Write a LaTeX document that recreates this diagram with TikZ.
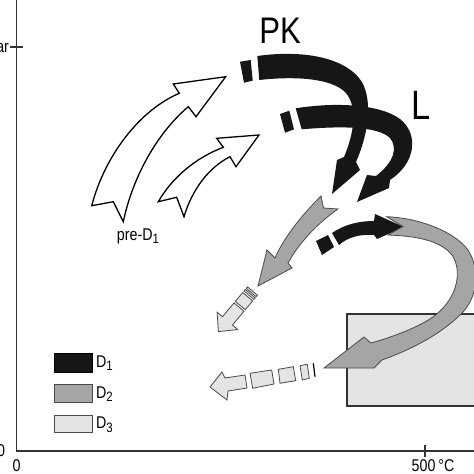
\documentclass[tikz,border=0pt]{standalone}
\usepackage{fontspec}
\setmainfont{Liberation Sans}[FakeStretch=0.84]
\definecolor{done}{HTML}{161616}
\definecolor{dtwo}{HTML}{A5A5A5}
\definecolor{dthree}{HTML}{E4E4E4}
\definecolor{edge}{HTML}{4A4A4A}
\definecolor{axis}{HTML}{333333}
\newcommand{\lowsub}[1]{\raisebox{-0.4ex}{\scalebox{0.8}{#1}}}
\tikzset{
  blk/.style={fill=done,draw=none},
  gry/.style={fill=dtwo,draw=edge,line width=0.8pt,line join=miter},
  lgt/.style={fill=dthree,draw=edge,line width=0.8pt},
  wht/.style={fill=white,draw=black,line width=1.3pt,line join=miter},
  axisline/.style={draw=axis,line width=1.5pt},
  lbl/.style={inner sep=0pt,outer sep=0pt,text=black},
  small/.style={font=\fontsize{17}{17}\selectfont},
  keytext/.style={lbl,anchor=west,font=\fontsize{17}{17}\selectfont}
}
\begin{document}
\begin{tikzpicture}[x=1pt,y=-1pt]
\useasboundingbox (0,0) rectangle (474,474);
\begin{scope}
\clip (0,0) rectangle (474,474);
% axes
\draw[axisline] (16.5,0) -- (16.5,451) -- (476,451);
\draw[axisline] (10,47) -- (23,47);
\draw[axisline] (425,445) -- (425,457);
\node[lbl,small,anchor=east] (ylab) at (9,48) {ar};
\node[lbl,small,anchor=east] (yzero) at (5,451) {0};
\node[lbl,small] (xzero) at (16.5,466) {0};
\node[lbl,small] (xfive) at (433,466) {500\,°C};

% D3 field
\draw[fill=dthree,draw=axis,line width=1.4pt] (347,314) rectangle (480,406);

% white pre-D1 arrows
\draw[wht] (91.7,205.7) -- (113.3,201.7) -- (123.3,221.7)
  .. controls (132,180) and (155,135) .. (188.3,106.7)
  -- (196,116.7) -- (225.7,76.7) -- (173.3,84) -- (179.3,93.3)
  .. controls (140,110) and (105,155) .. (91.7,205.7) -- cycle;
\draw[wht] (158.3,201.7) -- (176.7,197.3) -- (184,216.7)
  .. controls (192,190) and (208,168) .. (230,156.7)
  -- (236,166.7) -- (259,135) -- (216.7,138.3) -- (223.3,147.3)
  .. controls (195,158) and (172,178) .. (158.3,201.7) -- cycle;
\node[lbl,font=\fontsize{17}{17}\selectfont] (pre) at (138,236) {pre-D\lowsub{1}};

% PK black arrow
\fill[blk] (240,61.7) -- (250.7,60) -- (252.7,80.7) -- (244,82.7) -- cycle;
\fill[blk] (257.3,56) .. controls (300,50) and (345,56) .. (362,82)
  .. controls (373,102) and (368,135) .. (356,162)
  -- (360,170) -- (332,194) -- (337,160) -- (344,157)
  .. controls (354,133) and (358,108) .. (346,93)
  .. controls (332,78) and (295,76) .. (259.3,80) -- cycle;
% L black arrow
\fill[blk] (280,114) -- (289.3,110.7) -- (294,129.3) -- (285,132.7) -- cycle;
\fill[blk] (295.7,108.3) .. controls (335,102) and (380,104) .. (400,119)
  .. controls (419,134) and (416,163) .. (390,180)
  -- (389,188) -- (357,202) -- (367,175) -- (376,176)
  .. controls (394,162) and (398,148) .. (390,138)
  .. controls (378,126) and (340,126) .. (301.7,129.3) -- cycle;
\node[lbl,font=\fontsize{37}{37}\selectfont] (pk) at (280,31) {PK};
\node[lbl,font=\fontsize{41}{41}\selectfont] (l) at (421,105) {L};

% grey arrow 1
\draw[gry] (321,196) -- (323.5,208) -- (338,209)
  .. controls (315,225) and (298,245) .. (288,263)
  -- (292,268) -- (258,286) -- (267,250) -- (275,258)
  .. controls (285,235) and (305,212) .. (321,196) -- cycle;
% light arrow 1 (dashed)
\begin{scope}[shift={(252.5,291)},rotate=230]
  \draw[lgt] (0,-6.5) rectangle (2,6.5);
  \draw[lgt] (3.5,-6.5) rectangle (5.5,6.5);
  \draw[lgt] (7.5,-6.5) rectangle (19,6.5);
  \draw[lgt] (21,-6.5) -- (39,-6.5) -- (39,-13.5) -- (53,0) -- (39,13.5) -- (39,6.5) -- (21,6.5) -- cycle;
\end{scope}

% D1 short black arrow
\fill[blk] (316,241) -- (328,235) -- (334,247) -- (322,255) -- cycle;
\fill[blk] (332,233) .. controls (345,224) and (360,221) .. (374,221)
  -- (375,214) -- (404,227) -- (377,239) -- (374,235)
  .. controls (360,234) and (348,237) .. (339,245) -- cycle;

% grey S arrow
\draw[gry] (386.7,216.7) .. controls (420,218) and (455,232) .. (468,250)
  .. controls (482,272) and (476,300) .. (461,314)
  .. controls (440,335) and (410,350) .. (382,360)
  -- (374,368) -- (324,368) -- (364,337) -- (371,343)
  .. controls (400,335) and (430,322) .. (440,311)
  .. controls (458,294) and (462,270) .. (452,255)
  .. controls (440,240) and (415,236) .. (388,235)
  -- (403,226.5) -- cycle;

% light arrow 2 (dashed)
\draw[lgt] (210,387) -- (222,372) -- (225,378) -- (245,375) -- (247,388) -- (228,391) -- (227,400) -- cycle;
\draw[lgt] (250,373.3) -- (271.7,370) -- (274,384) -- (252.7,388.3) -- cycle;
\draw[lgt] (278.3,369.3) -- (293.3,366.7) -- (295.7,380.7) -- (280,383.3) -- cycle;
\draw[lgt] (300,365.7) -- (307.3,364.3) -- (309.3,378.3) -- (302.3,380) -- cycle;
\draw[draw=black,line width=1.2pt] (313.3,363.3) -- (315,376.7);

% legend
\draw[fill=done,draw=black,line width=0.8pt] (54,353) rectangle (92,372);
\draw[fill=dtwo,draw=edge,line width=0.8pt] (54,384) rectangle (92,402);
\draw[fill=dthree,draw=edge,line width=0.8pt] (54,415) rectangle (92,432);
\node[keytext] (k1) at (96,363) {D\lowsub{1}};
\node[keytext] (k2) at (96,394) {D\lowsub{2}};
\node[keytext] (k3) at (96,425) {D\lowsub{3}};
\end{scope}
\end{tikzpicture}
\end{document}
